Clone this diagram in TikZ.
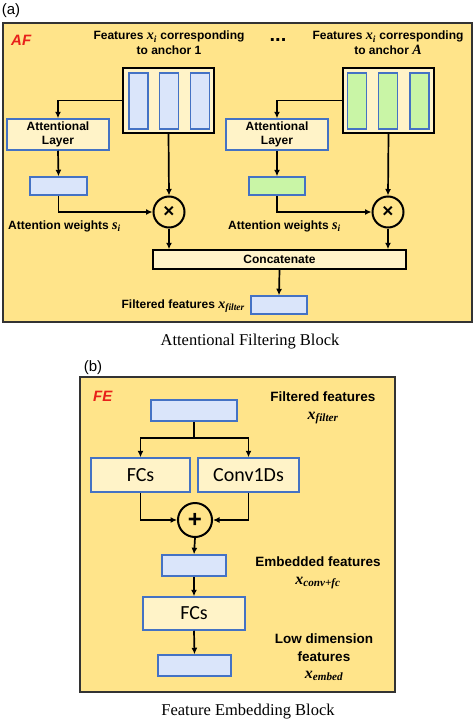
\documentclass[tikz,border=0pt]{standalone}
\usepackage{fontspec}
\setmainfont{Liberation Sans}
\newfontfamily\capfont{Liberation Serif}
\newfontfamily\calfont{Carlito}
\newfontfamily\mvfont[Scale=1.18]{Liberation Serif}
\newcommand\mvar[2]{{\mvfont\bfseries\itshape #1}\textsubscript{\mvfont\bfseries\itshape #2}}
\usetikzlibrary{arrows.meta}
\definecolor{panelY}{HTML}{FFE48A}
\definecolor{boxY}{HTML}{FFF3C8}
\definecolor{boxB}{HTML}{DAE5FA}
\definecolor{boxG}{HTML}{C9F5A6}
\definecolor{edgeB}{HTML}{4472C4}
\definecolor{edgeD}{HTML}{333333}
\definecolor{redT}{HTML}{E8201A}
\tikzset{
  panel/.style={draw=edgeD, line width=1.6pt, fill=panelY, inner sep=0pt},
  ybox/.style={draw=edgeB, line width=1.5pt, fill=boxY, inner sep=0pt, align=center},
  bbox/.style={draw=edgeB, line width=1.5pt, fill=boxB, inner sep=0pt},
  gbox/.style={draw=edgeB, line width=1.5pt, fill=boxG, inner sep=0pt},
  fbox/.style={draw=black, line width=1.8pt, fill=boxY, inner sep=0pt},
  opnode/.style={circle, draw=black, line width=2pt, fill=panelY, inner sep=0pt},
  conn/.style={line width=1.7pt, black},
  arr/.style={conn, -{Latex[length=6.5pt,width=6pt]}},
  lbl/.style={inner sep=0pt, align=center, font=\fontsize{12}{15}\selectfont\bfseries},
  blbl/.style={inner sep=0pt, align=center, font=\fontsize{13.5}{18}\selectfont\bfseries},
  plbl/.style={inner sep=0pt, font=\fontsize{15}{16}\selectfont},
  captext/.style={inner sep=0pt, font=\fontsize{16.5}{18}\selectfont\capfont},
  tagtext/.style={inner sep=0pt, text=redT, font=\fontsize{15}{16}\selectfont\bfseries\itshape},
  calbox/.style={ybox, font=\fontsize{20}{22}\selectfont\calfont},
}
\begin{document}
\begin{tikzpicture}[x=1pt,y=-1pt]
\useasboundingbox (0,0) rectangle (474,720);
% ---------- panel (a)
\node[plbl] (la) at (11,11) {(a)};
\node[panel, minimum width=469, minimum height=299] (pa) at (237.5,172.5) {};
\node[tagtext, anchor=west] (af) at (11,40) {AF};
\node[lbl] (t1) at (169,43) {Features \mvar{x}{i} corresponding\\to anchor 1};
\node[lbl] (tA) at (388,43) {Features \mvar{x}{i} corresponding\\to anchor {\mvfont\bfseries\itshape A}};
\node[inner sep=0pt, font=\fontsize{20}{20}\selectfont\bfseries] (dots) at (278,40) {...};
% feature boxes
\node[fbox, minimum width=91, minimum height=65] (fb1) at (168.5,100.5) {};
\foreach \x/\n in {138.5/a,169/b,200/c}
  \node[bbox, minimum width=19, minimum height=56] (f1\n) at (\x,101) {};
\node[fbox, minimum width=91, minimum height=65] (fbA) at (388.5,100.5) {};
\foreach \x/\n in {357/a,388/b,419.5/c}
  \node[gbox, minimum width=19, minimum height=56] (fA\n) at (\x,101) {};
% attentional layers
\node[ybox, minimum width=102, minimum height=31, font=\fontsize{12}{14}\selectfont\bfseries] (al1) at (58,134.5) {Attentional\\Layer};
\node[ybox, minimum width=102, minimum height=31, font=\fontsize{12}{14}\selectfont\bfseries] (alA) at (277,134.5) {Attentional\\Layer};
\node[bbox, minimum width=57, minimum height=18] (w1) at (58.5,186) {};
\node[gbox, minimum width=56, minimum height=18] (wA) at (277,186) {};
\node[opnode, minimum size=31] (m1) at (169,212) {\fontsize{19}{19}\selectfont\bfseries ×};
\node[opnode, minimum size=31] (mA) at (388,212) {\fontsize{19}{19}\selectfont\bfseries ×};
\node[lbl, anchor=west] (aw1) at (8,226) {Attention weights \mvar{s}{i}};
\node[lbl, anchor=west] (awA) at (228,226) {Attention weights \mvar{s}{i}};
\node[ybox, draw=black, font=\fontsize{12}{14}\selectfont\bfseries, minimum width=253, minimum height=19] (cc) at (279.5,259.5) {Concatenate};
\node[bbox, minimum width=56, minimum height=18] (flt) at (279,305) {};
\node[lbl, anchor=east] (fltT) at (245,306) {Filtered features \mvar{x}{filter}};
% connectors (a)
\draw[arr] (fb1.west) -| (al1.north);
\draw[arr] (al1.south) -- (w1.north);
\draw[arr] (w1.south) |- (m1.west);
\draw[arr] (fb1.south) -- (m1.north);
\draw[arr] (m1.south) -- (m1.south |- cc.north);
\draw[arr] (fbA.west) -| (alA.north);
\draw[arr] (alA.south) -- (wA.north);
\draw[arr] (wA.south) |- (mA.west);
\draw[arr] (fbA.south) -- (mA.north);
\draw[arr] (mA.south) -- (mA.south |- cc.north);
\draw[arr] (cc.south) -- (flt.north);
\node[captext] (capa) at (250,342) {Attentional Filtering Block};
% ---------- panel (b)
\node[plbl] (lb) at (93,368) {(b)};
\node[panel, minimum width=315, minimum height=315] (pb) at (237.5,534.5) {};
\node[tagtext, anchor=west] (fe) at (93,396) {FE};
\node[bbox, minimum width=86, minimum height=21] (ff) at (194,410.5) {};
\node[calbox, minimum width=99, minimum height=34] (fc1) at (140.5,475) {FCs};
\node[calbox, minimum width=101, minimum height=34] (cv) at (248.5,475) {Conv1Ds};
\node[opnode, minimum size=34] (pl) at (195,520) {\fontsize{24}{24}\selectfont\bfseries +};
\node[bbox, minimum width=64, minimum height=21] (emb) at (194,565.5) {};
\node[calbox, minimum width=102, minimum height=33] (fc2) at (194,613.5) {FCs};
\node[bbox, minimum width=73, minimum height=21] (low) at (194.5,665.5) {};
\coordinate (sp) at (194,438);
\draw[conn] (ff.south) -- (sp);
\draw[arr] (sp) -| (fc1.north);
\draw[arr] (sp) -| (cv.north);
\draw[arr] (fc1.south) |- (pl.west);
\draw[arr] (cv.south) |- (pl.east);
\draw[arr] (pl.south) -- (emb.north);
\draw[arr] (emb.south) -- (fc2.north);
\draw[arr] (fc2.south) -- (low.north);
\node[blbl] (tff) at (323,397) {Filtered features};
\node[blbl] (tffx) at (323,418) {\mvar{x}{filter}};
\node[blbl] (temb) at (318,562) {Embedded features};
\node[blbl] (tembx) at (318,583) {\mvar{x}{conv+fc}};
\node[blbl] (tlow) at (324,648) {Low dimension\\features};
\node[blbl] (tlowx) at (324,676) {\mvar{x}{embed}};
\node[captext] (capb) at (248,712) {Feature Embedding Block};
\end{tikzpicture}
\end{document}
